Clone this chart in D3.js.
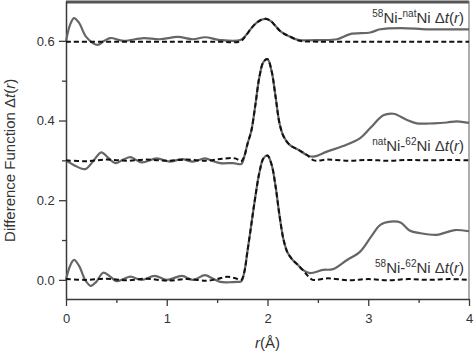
<!DOCTYPE html>
<html>
<head>
<meta charset="utf-8">
<script src="https://cdn.jsdelivr.net/npm/d3@7"></script>
<style>
  html, body { margin: 0; padding: 0; background: #fff; }
  svg { display: block; font-family: "Liberation Sans", Arial, sans-serif; }
</style>
</head>
<body>
<svg id="chart" width="474" height="353"></svg>
<script>
// Difference functions Δt(r) for three Ni isotope pairs, offset by 0 / 0.3 / 0.6.
// Each series is a list of [r, Δt] points.

const xTicks = [0, 1, 2, 3, 4];
const yTicks = [0.0, 0.2, 0.4, 0.6];

// 58Ni-62Ni (offset 0)
const d58_62_data = [
  [0, 0.0], [0.04, 0.035], [0.08, 0.05], [0.13, 0.035], [0.19, 0.0], [0.245, -0.015],
  [0.30, -0.005], [0.37, 0.018], [0.44, 0.008], [0.50, -0.003], [0.57, 0.002], [0.64, 0.008],
  [0.75, 0.0], [0.88, 0.01], [1.0, 0.0], [1.15, 0.01], [1.26, 0.0], [1.38, 0.012],
  [1.45, 0.004], [1.53, -0.005], [1.62, -0.006], [1.70, -0.005], [1.74, -0.004],
  [1.77, 0.02], [1.80, 0.07], [1.84, 0.14], [1.88, 0.21], [1.92, 0.27], [1.96, 0.305],
  [2.0, 0.312], [2.04, 0.29], [2.08, 0.235], [2.12, 0.16], [2.16, 0.10], [2.20, 0.068],
  [2.25, 0.05], [2.30, 0.038], [2.35, 0.025], [2.42, 0.017], [2.55, 0.025], [2.65, 0.027],
  [2.79, 0.05], [2.92, 0.071], [3.03, 0.109], [3.12, 0.138], [3.22, 0.146], [3.32, 0.144],
  [3.41, 0.124], [3.52, 0.117], [3.68, 0.113], [3.78, 0.12], [3.86, 0.125], [4.0, 0.122]
];
const d58_62_fit = [
  [0, 0.002], [0.2, 0.0], [0.4, 0.003], [0.6, -0.001], [0.8, 0.003], [1.0, -0.002],
  [1.2, 0.002], [1.4, -0.002], [1.5, 0.002], [1.6, 0.008], [1.68, 0.004], [1.74, 0.0],
  [1.77, 0.02], [1.80, 0.07], [1.84, 0.14], [1.88, 0.21], [1.92, 0.27], [1.96, 0.305],
  [2.0, 0.312], [2.04, 0.29], [2.08, 0.235], [2.12, 0.16], [2.16, 0.10], [2.20, 0.068],
  [2.25, 0.05], [2.30, 0.038], [2.35, 0.025], [2.40, 0.01], [2.45, 0.0], [2.6, 0.004],
  [2.8, -0.001], [3.0, 0.002], [3.2, -0.001], [3.4, 0.002], [3.6, 0.0], [3.8, 0.002], [4.0, 0.0]
];

// natNi-62Ni (offset 0.3)
const dNat_62_data = [
  [0, 0.30], [0.08, 0.288], [0.19, 0.278], [0.27, 0.298], [0.35, 0.32], [0.42, 0.306],
  [0.49, 0.293], [0.57, 0.302], [0.64, 0.308], [0.75, 0.295], [0.90, 0.305], [1.03, 0.297],
  [1.15, 0.303], [1.26, 0.297], [1.38, 0.305], [1.46, 0.298], [1.53, 0.293], [1.66, 0.293],
  [1.74, 0.291], [1.77, 0.31], [1.80, 0.34], [1.84, 0.375], [1.88, 0.44], [1.92, 0.51],
  [1.96, 0.547], [2.0, 0.554], [2.04, 0.525], [2.08, 0.46], [2.12, 0.392], [2.16, 0.36],
  [2.22, 0.339], [2.31, 0.326], [2.41, 0.311], [2.47, 0.31], [2.59, 0.322], [2.75, 0.336],
  [2.92, 0.356], [3.02, 0.381], [3.15, 0.413], [3.25, 0.417], [3.38, 0.402], [3.48, 0.393],
  [3.65, 0.393], [3.78, 0.395], [3.88, 0.398], [4.0, 0.394]
];
const dNat_62_fit = [
  [0, 0.30], [0.2, 0.298], [0.4, 0.302], [0.6, 0.299], [0.8, 0.302], [1.0, 0.299],
  [1.2, 0.302], [1.4, 0.299], [1.55, 0.304], [1.68, 0.305], [1.74, 0.298],
  [1.77, 0.31], [1.80, 0.34], [1.84, 0.375], [1.88, 0.44], [1.92, 0.51], [1.96, 0.547],
  [2.0, 0.554], [2.04, 0.525], [2.08, 0.46], [2.12, 0.392], [2.16, 0.36], [2.22, 0.339],
  [2.31, 0.326], [2.39, 0.314], [2.46, 0.3], [2.6, 0.302], [2.8, 0.299], [3.0, 0.301],
  [3.2, 0.299], [3.4, 0.301], [3.6, 0.3], [3.8, 0.301], [4.0, 0.3]
];

// 58Ni-natNi (offset 0.6)
const d58_nat_data = [
  [0, 0.598], [0.04, 0.64], [0.08, 0.657], [0.13, 0.645], [0.2, 0.61], [0.31, 0.59],
  [0.38, 0.6], [0.44, 0.607], [0.57, 0.6], [0.77, 0.607], [0.93, 0.604], [1.11, 0.61],
  [1.26, 0.604], [1.38, 0.609], [1.53, 0.602], [1.73, 0.602], [1.79, 0.615], [1.84, 0.632],
  [1.89, 0.645], [1.94, 0.653], [1.99, 0.655], [2.04, 0.648], [2.08, 0.637], [2.12, 0.626],
  [2.17, 0.617], [2.22, 0.611], [2.27, 0.605], [2.32, 0.602], [2.52, 0.602], [2.69, 0.604],
  [2.82, 0.617], [3.02, 0.621], [3.12, 0.629], [3.32, 0.632], [3.58, 0.629], [3.78, 0.629],
  [4.0, 0.629]
];
const d58_nat_fit = [
  [0, 0.598], [0.5, 0.598], [1.0, 0.598], [1.5, 0.598], [1.73, 0.599], [1.79, 0.615],
  [1.84, 0.632], [1.89, 0.645], [1.94, 0.653], [1.99, 0.655], [2.04, 0.648], [2.08, 0.637],
  [2.12, 0.626], [2.17, 0.617], [2.22, 0.611], [2.27, 0.605], [2.32, 0.600], [2.5, 0.598],
  [3.0, 0.598], [3.5, 0.598], [4.0, 0.598]
];

const dataSeries = [d58_62_data, dNat_62_data, d58_nat_data];
const fitSeries  = [d58_62_fit, dNat_62_fit, d58_nat_fit];

const W = 474, H = 353;
const M = { left: 66, right: 5, top: 1, bottom: 54 };
const svg = d3.select('#chart');

const x = d3.scaleLinear().domain([0, 4]).range([M.left, W - M.right]);
const y = d3.scaleLinear().domain([-0.048, 0.7]).range([H - M.bottom, M.top]);

const line = d3.line()
  .x(d => x(d[0]))
  .y(d => y(d[1]))
  .curve(d3.curveCatmullRom.alpha(0.5));

const AX = '#3a3a3a';

// frame: top (thick) and right
svg.append('line')
  .attr('x1', x(0)).attr('x2', x(4)).attr('y1', y(0.7) + 1).attr('y2', y(0.7) + 1)
  .attr('stroke', '#555').attr('stroke-width', 3);
svg.append('line')
  .attr('x1', x(4)).attr('x2', x(4)).attr('y1', y(0.7)).attr('y2', y(-0.048))
  .attr('stroke', '#777').attr('stroke-width', 1.2);

// x axis
const xAxis = svg.append('g').attr('transform', `translate(0,${y(-0.048)})`)
  .call(d3.axisBottom(x).tickValues(xTicks).tickFormat(d3.format('d')).tickSize(7).tickSizeOuter(0));
svg.append('g').attr('transform', `translate(0,${y(-0.048)})`)
  .call(d3.axisBottom(x).tickValues([0.5, 1.5, 2.5, 3.5]).tickFormat('').tickSize(4).tickSizeOuter(0))
  .select('.domain').remove();

// y axis
const yAxis = svg.append('g').attr('transform', `translate(${x(0)},0)`)
  .call(d3.axisLeft(y).tickValues(yTicks).tickFormat(d3.format('.1f')).tickSize(7).tickSizeOuter(0));
svg.append('g').attr('transform', `translate(${x(0)},0)`)
  .call(d3.axisLeft(y).tickValues([0.1, 0.3, 0.5]).tickFormat('').tickSize(4).tickSizeOuter(0))
  .select('.domain').remove();

svg.selectAll('.domain').attr('stroke', AX).attr('stroke-width', 1.5);
svg.selectAll('.tick line').attr('stroke', AX).attr('stroke-width', 1.3);
svg.selectAll('.tick text').attr('fill', '#333').style('font-size', '13px');
xAxis.selectAll('.tick text').attr('dy', '1.05em');
yAxis.selectAll('.tick text').attr('dx', '-0.1em');

// curves
svg.append('g').selectAll('path.data')
  .data(dataSeries).enter().append('path')
  .attr('class', 'data')
  .attr('d', line)
  .attr('fill', 'none').attr('stroke', '#666').attr('stroke-width', 2.2);

svg.append('g').selectAll('path.fit')
  .data(fitSeries).enter().append('path')
  .attr('class', 'fit')
  .attr('d', line)
  .attr('fill', 'none').attr('stroke', '#111').attr('stroke-width', 2)
  .attr('stroke-dasharray', '5,3');

// series labels
function seriesLabel(yPos, supA, supB) {
  const t = svg.append('text')
    .attr('x', 464).attr('y', yPos)
    .attr('text-anchor', 'end')
    .attr('fill', '#333')
    .style('font-size', '15px');
  t.append('tspan').text(supA).style('font-size', '10px').attr('dy', -6);
  t.append('tspan').text('Ni-').attr('dy', 6);
  t.append('tspan').text(supB).style('font-size', '10px').attr('dy', -6);
  t.append('tspan').text('Ni Δ').attr('dy', 6);
  t.append('tspan').text('t').style('font-style', 'italic');
  t.append('tspan').text('(');
  t.append('tspan').text('r').style('font-style', 'italic');
  t.append('tspan').text(')');
}
seriesLabel(23, '58', 'nat');
seriesLabel(151, 'nat', '62');
seriesLabel(273, '58', '62');

// axis titles
const xt = svg.append('text')
  .attr('x', x(2)).attr('y', 348)
  .attr('text-anchor', 'middle').attr('fill', '#333')
  .style('font-size', '15px');
xt.append('tspan').text('r').style('font-style', 'italic');
xt.append('tspan').text('(Å)');

const yt = svg.append('text')
  .attr('transform', `translate(15,${y(0.3)}) rotate(-90)`)
  .attr('text-anchor', 'middle').attr('fill', '#333')
  .style('font-size', '15px');
yt.append('tspan').text('Difference Function Δ');
yt.append('tspan').text('t').style('font-style', 'italic');
yt.append('tspan').text('(');
yt.append('tspan').text('r').style('font-style', 'italic');
yt.append('tspan').text(')');
</script>
</body>
</html>
